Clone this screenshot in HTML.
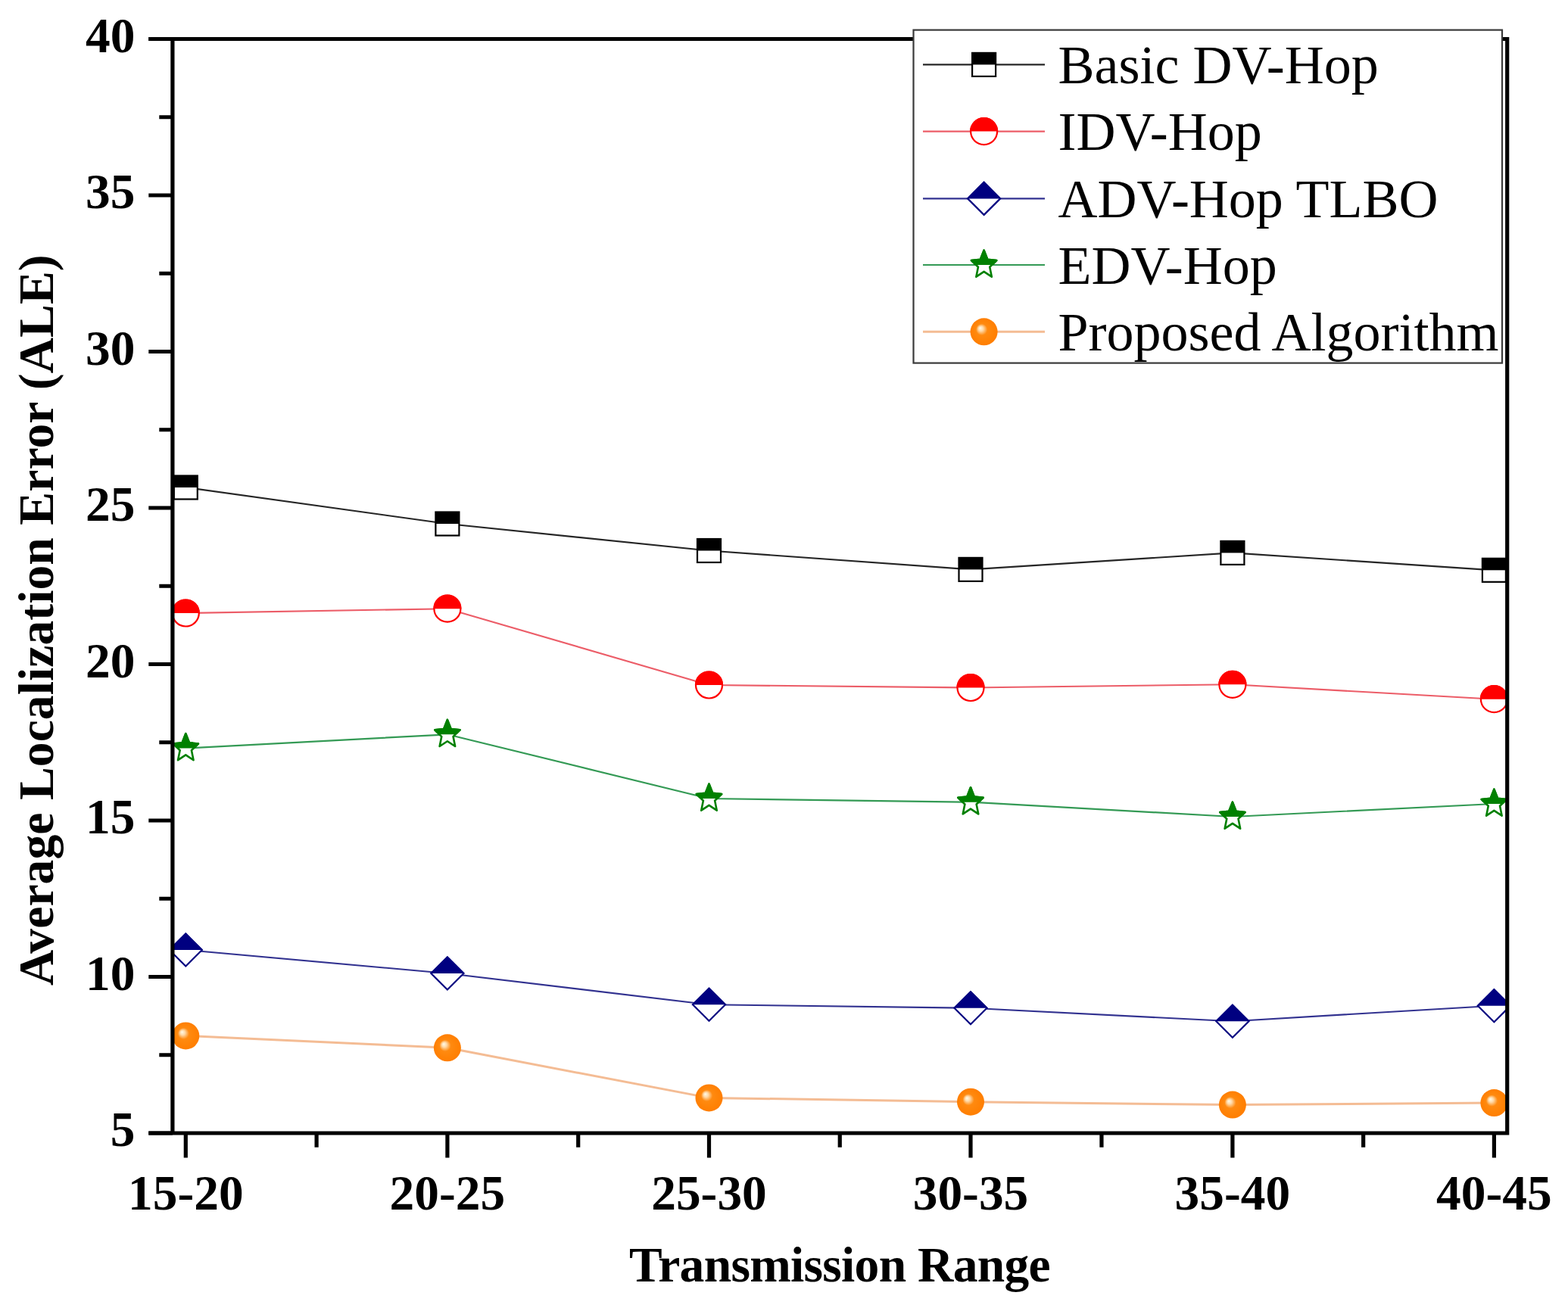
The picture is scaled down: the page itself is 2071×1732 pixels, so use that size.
<!DOCTYPE html><html><head><meta charset="utf-8"><style>html,body{margin:0;padding:0;background:#fff;}svg{display:block;}text{font-family:"Liberation Serif","Times New Roman",serif;}</style></head><body>
<svg width="2071" height="1732" viewBox="0 0 2071 1732">
<defs><radialGradient id="bg" cx="0.5" cy="0.5" r="0.5" fx="0.36" fy="0.36"><stop offset="0" stop-color="#fffbe8"/><stop offset="0.18" stop-color="#ffd9a8"/><stop offset="0.42" stop-color="#ff8a10"/><stop offset="1" stop-color="#ff7e00"/></radialGradient></defs>
<rect width="2071" height="1732" fill="#fff"/>
<polyline points="245.3,644 590.9,692 936.5,727.5 1282,752.4 1627.9,730.4 1973.4,753.3" fill="none" stroke="#262626" stroke-width="2.2" stroke-linejoin="round"/>
<polyline points="245.3,810 590.9,804.2 936.5,905 1282,908.5 1627.9,904.3 1973.4,923.7" fill="none" stroke="#ec5d68" stroke-width="2.1" stroke-linejoin="round"/>
<polyline points="245.3,988.5 590.9,970.3 936.5,1055 1282,1059.7 1627.9,1079 1973.4,1062" fill="none" stroke="#349a55" stroke-width="2.2" stroke-linejoin="round"/>
<polyline points="245.3,1255 590.9,1286 936.5,1327.2 1282,1331.8 1627.9,1349.2 1973.4,1328.7" fill="none" stroke="#323290" stroke-width="2.1" stroke-linejoin="round"/>
<polyline points="245.3,1368.4 590.9,1384.3 936.5,1450.4 1282,1455.7 1627.9,1459.6 1973.4,1457.1" fill="none" stroke="#f4bc94" stroke-width="3.0" stroke-linejoin="round"/>
<clipPath id="plotclip"><rect x="227.9" y="51.5" width="1762.8" height="1445.5"/></clipPath>
<g clip-path="url(#plotclip)">
<rect x="229.8" y="628.5" width="31" height="31" fill="#fff" stroke="#000" stroke-width="2.2"/><rect x="229.8" y="628.5" width="31" height="15.5" fill="#000"/>
<rect x="575.4" y="676.5" width="31" height="31" fill="#fff" stroke="#000" stroke-width="2.2"/><rect x="575.4" y="676.5" width="31" height="15.5" fill="#000"/>
<rect x="921" y="712" width="31" height="31" fill="#fff" stroke="#000" stroke-width="2.2"/><rect x="921" y="712" width="31" height="15.5" fill="#000"/>
<rect x="1266.5" y="736.9" width="31" height="31" fill="#fff" stroke="#000" stroke-width="2.2"/><rect x="1266.5" y="736.9" width="31" height="15.5" fill="#000"/>
<rect x="1612.4" y="714.9" width="31" height="31" fill="#fff" stroke="#000" stroke-width="2.2"/><rect x="1612.4" y="714.9" width="31" height="15.5" fill="#000"/>
<rect x="1957.9" y="737.8" width="31" height="31" fill="#fff" stroke="#000" stroke-width="2.2"/><rect x="1957.9" y="737.8" width="31" height="15.5" fill="#000"/>
<circle cx="245.3" cy="810" r="17.5" fill="#fff" stroke="#ff0000" stroke-width="2.2"/><path d="M226.7,810 A18.6,18.6 0 0 1 263.9,810 Z" fill="#ff0000"/>
<circle cx="590.9" cy="804.2" r="17.5" fill="#fff" stroke="#ff0000" stroke-width="2.2"/><path d="M572.3,804.2 A18.6,18.6 0 0 1 609.5,804.2 Z" fill="#ff0000"/>
<circle cx="936.5" cy="905" r="17.5" fill="#fff" stroke="#ff0000" stroke-width="2.2"/><path d="M917.9,905 A18.6,18.6 0 0 1 955.1,905 Z" fill="#ff0000"/>
<circle cx="1282" cy="908.5" r="17.5" fill="#fff" stroke="#ff0000" stroke-width="2.2"/><path d="M1263.4,908.5 A18.6,18.6 0 0 1 1300.6,908.5 Z" fill="#ff0000"/>
<circle cx="1627.9" cy="904.3" r="17.5" fill="#fff" stroke="#ff0000" stroke-width="2.2"/><path d="M1609.3,904.3 A18.6,18.6 0 0 1 1646.5,904.3 Z" fill="#ff0000"/>
<circle cx="1973.4" cy="923.7" r="17.5" fill="#fff" stroke="#ff0000" stroke-width="2.2"/><path d="M1954.8,923.7 A18.6,18.6 0 0 1 1992,923.7 Z" fill="#ff0000"/>
<path d="M245.3,969.1 L250.02,981.28 L261.91,982.51 L252.94,991.26 L255.56,1004.19 L245.3,997.42 L235.04,1004.19 L237.66,991.26 L228.69,982.51 L240.58,981.28 Z" fill="#fff" stroke="#008000" stroke-width="2.6" stroke-linejoin="round"/><clipPath id="c13"><rect x="220.9" y="964.1" width="48.8" height="24.4"/></clipPath><path d="M245.3,969.1 L250.02,981.28 L261.91,982.51 L252.94,991.26 L255.56,1004.19 L245.3,997.42 L235.04,1004.19 L237.66,991.26 L228.69,982.51 L240.58,981.28 Z" fill="#008000" stroke="#008000" stroke-width="2.6" stroke-linejoin="round" clip-path="url(#c13)"/>
<path d="M590.9,950.9 L595.62,963.08 L607.51,964.31 L598.54,973.06 L601.16,985.99 L590.9,979.22 L580.64,985.99 L583.26,973.06 L574.29,964.31 L586.18,963.08 Z" fill="#fff" stroke="#008000" stroke-width="2.6" stroke-linejoin="round"/><clipPath id="c14"><rect x="566.5" y="945.9" width="48.8" height="24.4"/></clipPath><path d="M590.9,950.9 L595.62,963.08 L607.51,964.31 L598.54,973.06 L601.16,985.99 L590.9,979.22 L580.64,985.99 L583.26,973.06 L574.29,964.31 L586.18,963.08 Z" fill="#008000" stroke="#008000" stroke-width="2.6" stroke-linejoin="round" clip-path="url(#c14)"/>
<path d="M936.5,1035.6 L941.22,1047.78 L953.11,1049.01 L944.14,1057.76 L946.76,1070.69 L936.5,1063.92 L926.24,1070.69 L928.86,1057.76 L919.89,1049.01 L931.78,1047.78 Z" fill="#fff" stroke="#008000" stroke-width="2.6" stroke-linejoin="round"/><clipPath id="c15"><rect x="912.1" y="1030.6" width="48.8" height="24.4"/></clipPath><path d="M936.5,1035.6 L941.22,1047.78 L953.11,1049.01 L944.14,1057.76 L946.76,1070.69 L936.5,1063.92 L926.24,1070.69 L928.86,1057.76 L919.89,1049.01 L931.78,1047.78 Z" fill="#008000" stroke="#008000" stroke-width="2.6" stroke-linejoin="round" clip-path="url(#c15)"/>
<path d="M1282,1040.3 L1286.72,1052.48 L1298.61,1053.71 L1289.64,1062.46 L1292.26,1075.39 L1282,1068.62 L1271.74,1075.39 L1274.36,1062.46 L1265.39,1053.71 L1277.28,1052.48 Z" fill="#fff" stroke="#008000" stroke-width="2.6" stroke-linejoin="round"/><clipPath id="c16"><rect x="1257.6" y="1035.3" width="48.8" height="24.4"/></clipPath><path d="M1282,1040.3 L1286.72,1052.48 L1298.61,1053.71 L1289.64,1062.46 L1292.26,1075.39 L1282,1068.62 L1271.74,1075.39 L1274.36,1062.46 L1265.39,1053.71 L1277.28,1052.48 Z" fill="#008000" stroke="#008000" stroke-width="2.6" stroke-linejoin="round" clip-path="url(#c16)"/>
<path d="M1627.9,1059.6 L1632.62,1071.78 L1644.51,1073.01 L1635.54,1081.76 L1638.16,1094.69 L1627.9,1087.92 L1617.64,1094.69 L1620.26,1081.76 L1611.29,1073.01 L1623.18,1071.78 Z" fill="#fff" stroke="#008000" stroke-width="2.6" stroke-linejoin="round"/><clipPath id="c17"><rect x="1603.5" y="1054.6" width="48.8" height="24.4"/></clipPath><path d="M1627.9,1059.6 L1632.62,1071.78 L1644.51,1073.01 L1635.54,1081.76 L1638.16,1094.69 L1627.9,1087.92 L1617.64,1094.69 L1620.26,1081.76 L1611.29,1073.01 L1623.18,1071.78 Z" fill="#008000" stroke="#008000" stroke-width="2.6" stroke-linejoin="round" clip-path="url(#c17)"/>
<path d="M1973.4,1042.6 L1978.12,1054.78 L1990.01,1056.01 L1981.04,1064.76 L1983.66,1077.69 L1973.4,1070.92 L1963.14,1077.69 L1965.76,1064.76 L1956.79,1056.01 L1968.68,1054.78 Z" fill="#fff" stroke="#008000" stroke-width="2.6" stroke-linejoin="round"/><clipPath id="c18"><rect x="1949" y="1037.6" width="48.8" height="24.4"/></clipPath><path d="M1973.4,1042.6 L1978.12,1054.78 L1990.01,1056.01 L1981.04,1064.76 L1983.66,1077.69 L1973.4,1070.92 L1963.14,1077.69 L1965.76,1064.76 L1956.79,1056.01 L1968.68,1054.78 Z" fill="#008000" stroke="#008000" stroke-width="2.6" stroke-linejoin="round" clip-path="url(#c18)"/>
<path d="M245.3,1233.5 L266.8,1255 L245.3,1276.5 L223.8,1255 Z" fill="#fff" stroke="#000080" stroke-width="2.2" stroke-linejoin="miter"/><path d="M245.3,1231.96 L268.34,1255 L222.26,1255 Z" fill="#000080"/>
<path d="M590.9,1264.5 L612.4,1286 L590.9,1307.5 L569.4,1286 Z" fill="#fff" stroke="#000080" stroke-width="2.2" stroke-linejoin="miter"/><path d="M590.9,1262.96 L613.94,1286 L567.86,1286 Z" fill="#000080"/>
<path d="M936.5,1305.7 L958,1327.2 L936.5,1348.7 L915,1327.2 Z" fill="#fff" stroke="#000080" stroke-width="2.2" stroke-linejoin="miter"/><path d="M936.5,1304.16 L959.54,1327.2 L913.46,1327.2 Z" fill="#000080"/>
<path d="M1282,1310.3 L1303.5,1331.8 L1282,1353.3 L1260.5,1331.8 Z" fill="#fff" stroke="#000080" stroke-width="2.2" stroke-linejoin="miter"/><path d="M1282,1308.76 L1305.04,1331.8 L1258.96,1331.8 Z" fill="#000080"/>
<path d="M1627.9,1327.7 L1649.4,1349.2 L1627.9,1370.7 L1606.4,1349.2 Z" fill="#fff" stroke="#000080" stroke-width="2.2" stroke-linejoin="miter"/><path d="M1627.9,1326.16 L1650.94,1349.2 L1604.86,1349.2 Z" fill="#000080"/>
<path d="M1973.4,1307.2 L1994.9,1328.7 L1973.4,1350.2 L1951.9,1328.7 Z" fill="#fff" stroke="#000080" stroke-width="2.2" stroke-linejoin="miter"/><path d="M1973.4,1305.66 L1996.44,1328.7 L1950.36,1328.7 Z" fill="#000080"/>
<circle cx="245.3" cy="1368.4" r="18" fill="url(#bg)"/>
<circle cx="590.9" cy="1384.3" r="18" fill="url(#bg)"/>
<circle cx="936.5" cy="1450.4" r="18" fill="url(#bg)"/>
<circle cx="1282" cy="1455.7" r="18" fill="url(#bg)"/>
<circle cx="1627.9" cy="1459.6" r="18" fill="url(#bg)"/>
<circle cx="1973.4" cy="1457.1" r="18" fill="url(#bg)"/>
</g>
<g stroke="#000" stroke-width="5.2" fill="none" stroke-linecap="butt">
<path d="M196.3,51.5 H1993.3 M1990.7,48.9 V1499.6 M196.3,1497 H1993.3 M227.9,48.9 V1499.6"/>
<path d="M196.3,51.5 H227.9 M210.3,154.75 H227.9 M196.3,258 H227.9 M210.3,361.25 H227.9 M196.3,464.5 H227.9 M210.3,567.75 H227.9 M196.3,671 H227.9 M210.3,774.25 H227.9 M196.3,877.5 H227.9 M210.3,980.75 H227.9 M196.3,1084 H227.9 M210.3,1187.25 H227.9 M196.3,1290.5 H227.9 M210.3,1393.75 H227.9 M196.3,1497 H227.9 M245.3,1497 V1529.4 M418.1,1497 V1515.7 M590.9,1497 V1529.4 M763.7,1497 V1515.7 M936.5,1497 V1529.4 M1109.25,1497 V1515.7 M1282,1497 V1529.4 M1454.95,1497 V1515.7 M1627.9,1497 V1529.4 M1800.65,1497 V1515.7 M1973.4,1497 V1529.4 "/>
</g>
<g font-weight="bold" font-size="65.4" text-anchor="end" fill="#000">
<text x="178.5" y="68.5">40</text>
<text x="178.5" y="275">35</text>
<text x="178.5" y="481.5">30</text>
<text x="178.5" y="688">25</text>
<text x="178.5" y="894.5">20</text>
<text x="178.5" y="1101">15</text>
<text x="178.5" y="1307.5">10</text>
<text x="178.5" y="1514">5</text>
</g>
<g font-weight="bold" font-size="65.4" text-anchor="middle" fill="#000">
<text x="245.3" y="1597.5">15-20</text>
<text x="590.9" y="1597.5">20-25</text>
<text x="936.5" y="1597.5">25-30</text>
<text x="1282" y="1597.5">30-35</text>
<text x="1627.9" y="1597.5">35-40</text>
<text x="1973.4" y="1597.5">40-45</text>
</g>
<text x="1109" y="1692.6" font-weight="bold" font-size="65.5" text-anchor="middle" letter-spacing="-0.7">Transmission Range</text>
<text transform="translate(69.5,819.3) rotate(-90)" font-weight="bold" font-size="65.75" text-anchor="middle">Average Localization Error (ALE)</text>
<rect x="1206.5" y="39.6" width="777.5" height="440" fill="#fff" stroke="#3a3a3a" stroke-width="2.2"/>
<line x1="1219" y1="85.4" x2="1380" y2="85.4" stroke="#262626" stroke-width="2.2"/>
<rect x="1284.1" y="69.9" width="31" height="31" fill="#fff" stroke="#000" stroke-width="2.2"/><rect x="1284.1" y="69.9" width="31" height="15.5" fill="#000"/>
<text x="1397.5" y="110" font-size="72" fill="#000">Basic DV-Hop</text>
<line x1="1219" y1="173.6" x2="1380" y2="173.6" stroke="#ec5d68" stroke-width="2.1"/>
<circle cx="1299.6" cy="173.6" r="17.5" fill="#fff" stroke="#ff0000" stroke-width="2.2"/><path d="M1281,173.6 A18.6,18.6 0 0 1 1318.2,173.6 Z" fill="#ff0000"/>
<text x="1397.5" y="198.2" font-size="72" fill="#000">IDV-Hop</text>
<line x1="1219" y1="262.4" x2="1380" y2="262.4" stroke="#323290" stroke-width="2.1"/>
<path d="M1299.6,240.9 L1321.1,262.4 L1299.6,283.9 L1278.1,262.4 Z" fill="#fff" stroke="#000080" stroke-width="2.2" stroke-linejoin="miter"/><path d="M1299.6,239.36 L1322.64,262.4 L1276.56,262.4 Z" fill="#000080"/>
<text x="1397.5" y="287" font-size="72" fill="#000">ADV-Hop TLBO</text>
<line x1="1219" y1="350" x2="1380" y2="350" stroke="#349a55" stroke-width="2.2"/>
<path d="M1299.6,330.6 L1304.32,342.78 L1316.21,344.01 L1307.24,352.76 L1309.86,365.69 L1299.6,358.92 L1289.34,365.69 L1291.96,352.76 L1282.99,344.01 L1294.88,342.78 Z" fill="#fff" stroke="#008000" stroke-width="2.6" stroke-linejoin="round"/><clipPath id="c34"><rect x="1275.2" y="325.6" width="48.8" height="24.4"/></clipPath><path d="M1299.6,330.6 L1304.32,342.78 L1316.21,344.01 L1307.24,352.76 L1309.86,365.69 L1299.6,358.92 L1289.34,365.69 L1291.96,352.76 L1282.99,344.01 L1294.88,342.78 Z" fill="#008000" stroke="#008000" stroke-width="2.6" stroke-linejoin="round" clip-path="url(#c34)"/>
<text x="1397.5" y="374.6" font-size="72" fill="#000">EDV-Hop</text>
<line x1="1219" y1="438.3" x2="1380" y2="438.3" stroke="#f4bc94" stroke-width="3.0"/>
<circle cx="1299.6" cy="438.3" r="18" fill="url(#bg)"/>
<text x="1397.5" y="462.9" font-size="72" fill="#000">Proposed Algorithm</text>
</svg></body></html>
